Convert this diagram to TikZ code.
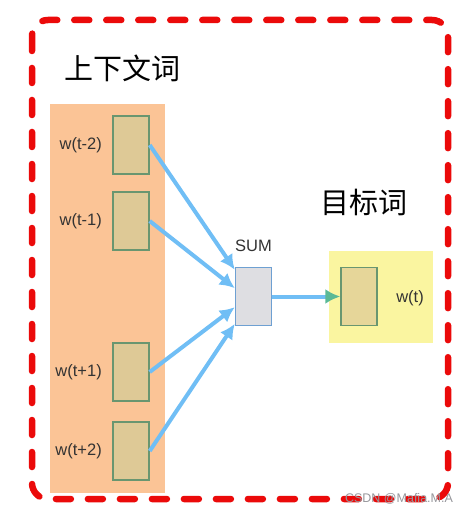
\documentclass[tikz,border=0pt]{standalone}
\usepackage{fontspec}
\setmainfont{Liberation Sans}
\newfontfamily\cjk{Noto Sans CJK SC}
\usepackage{tikz}
\usetikzlibrary{positioning,calc,arrows.meta}
\definecolor{frame_red}{RGB}{235,10,10}
\definecolor{ctx_orange}{RGB}{251,196,150}
\definecolor{tgt_yellow}{RGB}{250,245,160}
\definecolor{vec_fill}{RGB}{222,201,150}
\definecolor{vec_green}{RGB}{105,150,112}
\definecolor{sum_fill}{RGB}{222,222,226}
\definecolor{sum_blue}{RGB}{110,160,210}
\definecolor{ar_blue}{RGB}{112,190,245}
\definecolor{tip_green}{RGB}{90,185,150}
\definecolor{mark_gray}{RGB}{150,150,155}

\begin{document}
\begin{tikzpicture}[
x=1pt,y=-1pt,
vec/.style={
  draw=#1,
  line width=1.4pt,
  minimum width=36pt,
  minimum height=58pt,
  inner sep=0pt
  },
vec/.default=vec_green,
lbl/.style={
  font=\fontsize{16.5}{18}\selectfont,
  text=black!80
  },
head/.style={
  font=\fontsize{29}{32}\selectfont\cjk,
  inner sep=0pt
  },
ar/.style={
  draw=ar_blue,
  line width=4pt,
  -{Latex[length=15pt,width=15pt]}
  },
node distance=7pt and 7pt
]
\useasboundingbox (0,0) rectangle (474,513);

%Backgrounds
\fill[ctx_orange] (50,104) rectangle (165,493);
\fill[tgt_yellow] (329,251) rectangle (433,343);
\draw[frame_red,line width=6.5pt,line cap=round,rounded corners=16pt,
  dash pattern=on 15pt off 17pt] (32,20) rectangle (448,499);

%The nodes for the left
\node[vec,fill=vec_fill] (wm2) at (131,145) {};
\node[vec,fill=vec_fill] (wm1) at (131,221) {};
\node[vec,fill=vec_fill] (wp1) at (131,372) {};
\node[vec,fill=vec_fill] (wp2) at (131,451) {};

\node[lbl,left=of wm2] (lm2) {w(t-2)};
\node[lbl,left=of wm1] (lm1) {w(t-1)};
\node[lbl,left=of wp1] (lp1) {w(t+1)};
\node[lbl,left=of wp2] (lp2) {w(t+2)};

\node[head] (ctx) at (122,68) {上下文词};

%The nodes for the middle and right
\node[vec=sum_blue,fill=sum_fill] (sum) at (253.5,296.5) {};
\node[lbl,above=12pt of sum] (suml) {SUM};

\node[vec,fill=vec_fill!70!tgt_yellow] (wt) at (359,296.5) {};
\node[lbl] (wtl) at (410,298) {w(t)};

\node[head] (tgt) at (363.5,202.5) {目标词};

\node[text=mark_gray,font=\fontsize{12.5}{14}\selectfont] (mark) at (399,499) {CSDN @Mafia.M.A};

%Aux
\coordinate (aux1) at ( $ (sum.north west)!0.05!(sum.south west) $ );
\coordinate (aux2) at ( $ (sum.north west)!0.36!(sum.south west) $ );
\coordinate (aux3) at ( $ (sum.north west)!0.68!(sum.south west) $ );
\coordinate (aux4) at ( $ (sum.north west)!0.96!(sum.south west) $ );

\draw[ar]  (wm2.east) -- (aux1);
\draw[ar]  (wm1.east) -- (aux2);
\draw[ar]  (wp1.east) -- (aux3);
\draw[ar]  (wp2.east) -- (aux4);
\draw[ar,-{Latex[length=15pt,width=15pt,color=tip_green]}]  (sum) -- (wt);

\end{tikzpicture}
\end{document}
